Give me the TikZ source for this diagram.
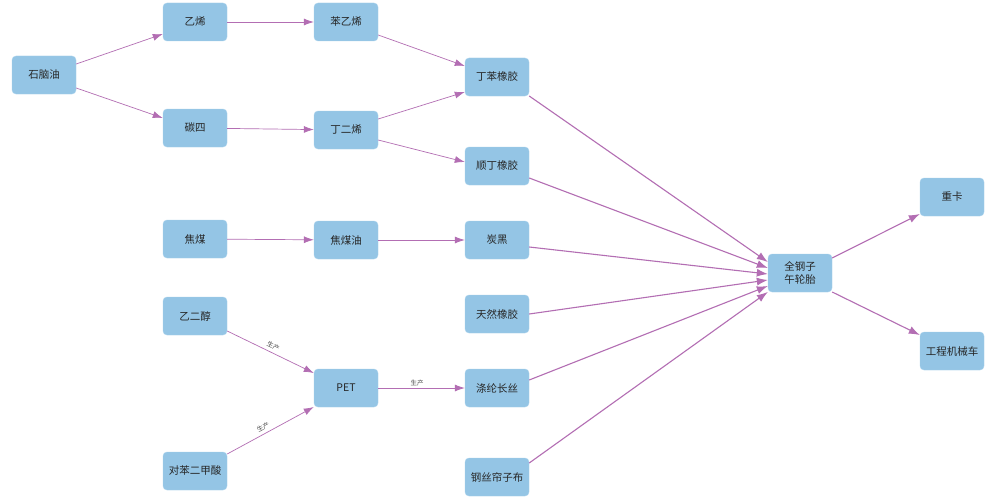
\documentclass[tikz,border=0pt]{standalone}
\usepackage{fontspec}
\setmainfont{Liberation Sans}
\newfontfamily\cjk{Noto Sans CJK SC}
\usetikzlibrary{arrows.meta}
\definecolor{boxfill}{HTML}{94C5E5}
\definecolor{boxline}{HTML}{A9D2EC}
\definecolor{arr}{HTML}{B36EB3}
\tikzset{
  box/.style={draw=boxline, fill=boxfill, rounded corners=4pt, minimum width=64pt, minimum height=38pt, inner sep=1pt, font=\cjk\fontsize{10.5}{12.5}\selectfont, text=black!85, align=center},
  conn/.style={draw=arr, line width=0.7pt, -{Latex[length=10pt,width=7pt]}},
  connb/.style={draw=arr, line width=1.1pt, -{Latex[length=11pt,width=8pt]}},
  lbl/.style={font=\cjk\fontsize{6.5}{7.5}\selectfont, text=black!70, inner sep=1pt}
}
\begin{document}
\begin{tikzpicture}[x=1pt,y=-1pt]
\useasboundingbox[fill=white] (0,0) rectangle (1000,503);
\node[box] (sn) at (44,75) {石脑油};
\node[box] (yx) at (195,22) {乙烯};
\node[box] (ts) at (195,128) {碳四};
\node[box] (byx) at (346,22) {苯乙烯};
\node[box] (dex) at (346,130) {丁二烯};
\node[box] (dbxj) at (497,77) {丁苯橡胶};
\node[box] (sdxj) at (497,166) {顺丁橡胶};
\node[box] (jm) at (195,239) {焦煤};
\node[box] (jmy) at (346,240) {焦煤油};
\node[box] (th) at (497,240) {炭黑};
\node[box] (yec) at (195,316) {乙二醇};
\node[box] (pet) at (346,388) {PET};
\node[box] (db) at (195,471) {对苯二甲酸};
\node[box] (trxj) at (497,314) {天然橡胶};
\node[box] (dl) at (497,388) {涤纶长丝};
\node[box] (gs) at (497,477) {钢丝帘子布};
\node[box] (lt) at (800,273) {全钢子\\午轮胎};
\node[box] (zk) at (952,197) {重卡};
\node[box] (gc) at (952,351) {工程机械车};

\draw[conn] (sn.east |- 0,64) -- (yx.west |- 0,34);
\draw[conn] (sn.east |- 0,88) -- (ts.west |- 0,118);
\draw[conn] (yx) -- (byx);
\draw[conn] (ts) -- (dex);
\draw[conn] (byx.east |- 0,35) -- (dbxj.west |- 0,66);
\draw[conn] (dex.east |- 0,119) -- (dbxj.west |- 0,92);
\draw[conn] (dex.east |- 0,140) -- (sdxj.west |- 0,162);
\draw[conn] (jm) -- (jmy);
\draw[conn] (jmy) -- (th);
\draw[conn] (yec.east |- 0,331) -- node[lbl, above=2pt, sloped, pos=0.5] {生产} (pet.west |- 0,373);
\draw[conn] (db.east |- 0,454) -- node[lbl, above=2pt, sloped, pos=0.45] {生产} (pet.west |- 0,407);
\draw[conn] (pet) -- node[lbl, above=1pt, pos=0.45] {生产} (dl);
\draw[connb] (dbxj.east |- 0,96) -- (lt.west |- 0,262);
\draw[connb] (sdxj.east |- 0,178) -- (lt.west |- 0,268);
\draw[connb] (th.east |- 0,247) -- (lt.west |- 0,274);
\draw[connb] (trxj.east |- 0,314) -- (lt.west |- 0,280);
\draw[connb] (dl.east |- 0,380) -- (lt.west |- 0,286);
\draw[connb] (gs.east |- 0,463) -- (lt.west |- 0,292);
\draw[connb] (lt.east |- 0,258) -- (zk.west |- 0,214);
\draw[connb] (lt.east |- 0,292) -- (gc.west |- 0,335);
\end{tikzpicture}
\end{document}
